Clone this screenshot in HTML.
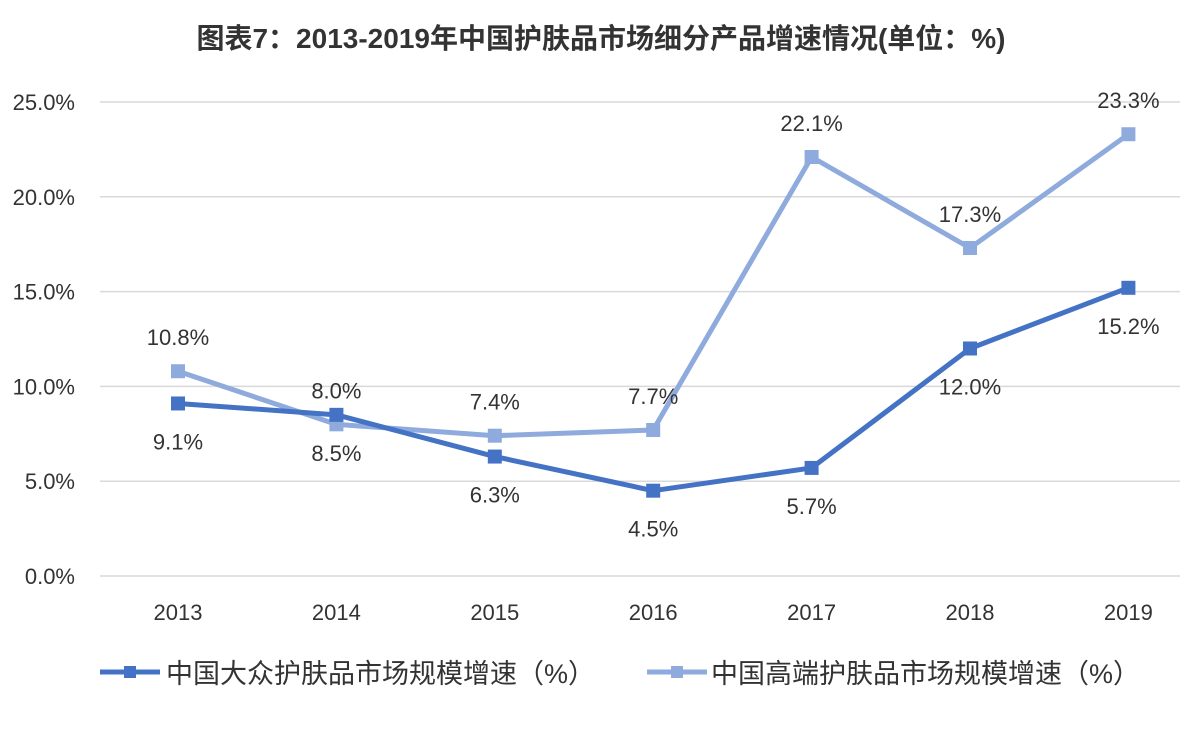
<!DOCTYPE html>
<html><head><meta charset="utf-8">
<style>
body{margin:0;background:#fff;width:1200px;height:728px;overflow:hidden}
svg text{font-family:"Liberation Sans","Noto Sans CJK SC",sans-serif}
</style></head>
<body>
<svg id="chart" width="1200" height="728" xmlns="http://www.w3.org/2000/svg">
<text x="601" y="48" text-anchor="middle" font-size="28" font-weight="bold" fill="#333">图表7：2013-2019年中国护肤品市场细分产品增速情况(单位：%)</text>
<g id="grid"></g><g id="series"></g>
<g>
<line x1="100" y1="672" x2="160" y2="672" stroke="#4472c4" stroke-width="5"/>
<rect x="124" y="666" width="12" height="12" fill="#4472c4"/>
<text x="166" y="683" font-size="27" fill="#333">中国大众护肤品市场规模增速（%）</text>
<line x1="647" y1="672" x2="707" y2="672" stroke="#8faadc" stroke-width="5"/>
<rect x="671" y="666" width="12" height="12" fill="#8faadc"/>
<text x="711" y="683" font-size="27" fill="#333">中国高端护肤品市场规模增速（%）</text>
</g>
</svg>
<script>
const categories=["2013","2014","2015","2016","2017","2018","2019"];
const massValues=[9.1,8.5,6.3,4.5,5.7,12.0,15.2];
const premiumValues=[10.8,8.0,7.4,7.7,22.1,17.3,23.3];
const yTicks=[0,5,10,15,20,25];
const NS="http://www.w3.org/2000/svg";
const x=i=>178+i*158.4;
const y=v=>576-v*18.96;
function mk(tag,attrs,parent){const e=document.createElementNS(NS,tag);for(const k in attrs)e.setAttribute(k,attrs[k]);parent.appendChild(e);return e;}
const grid=document.getElementById('grid'),ser=document.getElementById('series');
yTicks.forEach(t=>{
 const l=mk('line',{x1:100,x2:1180,y1:y(t),y2:y(t),stroke:'#d9d9d9','stroke-width':1.5},grid);
 
 
 const tx=mk('text',{x:75,y:y(t)+8,'text-anchor':'end','font-size':22,fill:'#333'},grid);
 tx.textContent=t.toFixed(1)+'%';
 
 
});
categories.forEach((c,i)=>{
 const tx=mk('text',{x:x(i),y:620,'text-anchor':'middle','font-size':22,fill:'#333'},grid);
 tx.textContent=c;
 
 
});
function draw(vals,color,name,above){
 const p=mk('polyline',{points:vals.map((v,i)=>x(i)+','+y(v)).join(' '),fill:'none',stroke:color,'stroke-width':5,'stroke-linejoin':'round'},ser);
 
 
 vals.forEach((v,i)=>{
  const r=mk('rect',{x:x(i)-7,y:y(v)-7,width:14,height:14,fill:color},ser);
  
  
  const t=mk('text',{x:x(i),y:above?y(v)-26:y(v)+46,'text-anchor':'middle','font-size':22,fill:'#333'},ser);
  t.textContent=v.toFixed(1)+'%';
  
  
 });
}
draw(premiumValues,'#8faadc','premium',true);
draw(massValues,'#4472c4','mass',false);
</script>
</body></html>
